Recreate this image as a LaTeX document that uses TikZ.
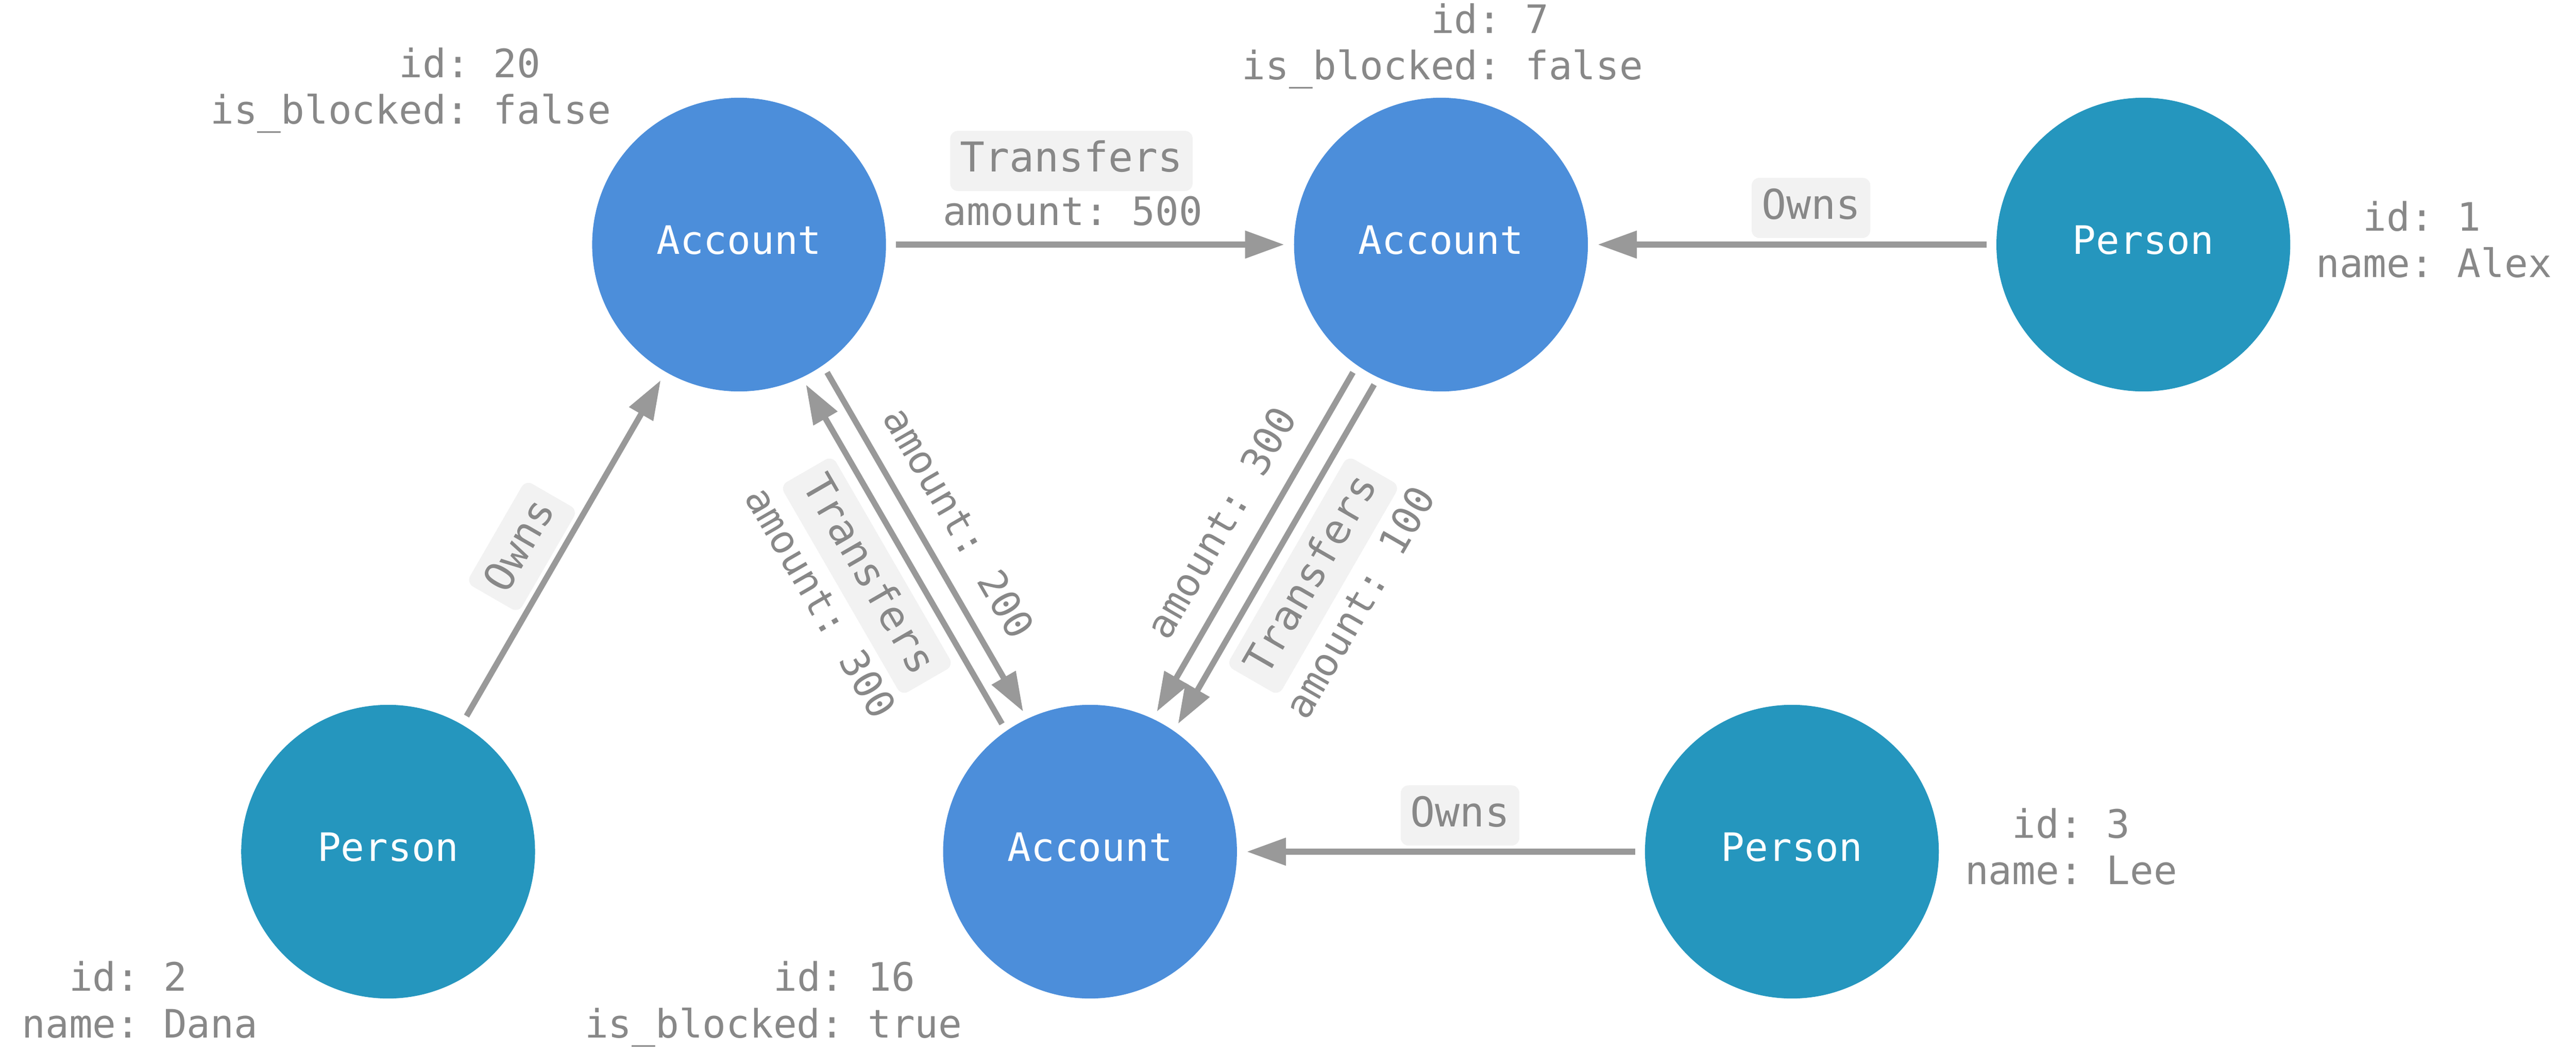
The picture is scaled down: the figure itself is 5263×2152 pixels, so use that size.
\documentclass[tikz,border=0pt]{standalone}
\usepackage{fontspec}
\setmonofont{DejaVu Sans Mono}
\usetikzlibrary{arrows.meta}
\definecolor{acc}{HTML}{4C8EDA}
\definecolor{per}{HTML}{2596BE}
\definecolor{edgec}{HTML}{999999}
\definecolor{txt}{HTML}{888888}
\definecolor{capbg}{HTML}{F2F2F2}
\newcommand\propfont{\fontsize{22.76pt}{27.03pt}\selectfont\ttfamily}
\newcommand\capfont{\fontsize{23.9pt}{27pt}\selectfont\ttfamily}
\begin{document}
\begin{tikzpicture}[x=0.01cm,y=-0.01cm,
  ent/.style={circle, minimum size=6cm, inner sep=0pt, outer sep=0pt, text=white, font=\propfont, text height=0.58cm, text depth=0.20cm},
  account/.style={ent, fill=acc},
  person/.style={ent, fill=per},
  rel/.style={draw=edgec, line width=0.12cm, -{Triangle[length=0.8cm,width=0.54cm]}, shorten <=0.2cm, shorten >=0.2cm},
  par/.style={rel, shorten <=3.16cm, shorten >=3.16cm},
  props/.style={text=txt, font=\propfont, inner sep=0pt, anchor=base west},
  caption/.style={fill=capbg, rounded corners=0.16cm, text=txt, font=\capfont, text height=0.6cm, text depth=0.15cm, inner xsep=0.2cm, inner ysep=0.24cm},
  amt/.style={text=txt, font=\propfont, inner sep=0pt, text height=0.58cm, text depth=0pt}
]
\useasboundingbox (0,0) rectangle (5263,2152);

% entities
\node[account] (A) at (1510,500) {Account};
\node[account] (B) at (2944,500) {Account};
\node[account] (C) at (2227,1741) {Account};
\node[person] (Alex) at (4379,500) {Person};
\node[person] (Dana) at (793,1741) {Person};
\node[person] (Lee) at (3661,1741) {Person};

% properties
\node[props] (pA) at (429,253) {\begin{tabular}[b]{@{}r@{:\ }l@{}}id&20\\is\_blocked&false\end{tabular}};
\node[props] (pB) at (2537,163) {\begin{tabular}[b]{@{}r@{:\ }l@{}}id&7\\is\_blocked&false\end{tabular}};
\node[props] (pC) at (1194,2121) {\begin{tabular}[b]{@{}r@{:\ }l@{}}id&16\\is\_blocked&true\end{tabular}};
\node[props] (pAlex) at (4731,567) {\begin{tabular}[b]{@{}r@{:\ }l@{}}id&1\\name&Alex\end{tabular}};
\node[props] (pDana) at (44,2121) {\begin{tabular}[b]{@{}r@{:\ }l@{}}id&2\\name&Dana\end{tabular}};
\node[props] (pLee) at (4014,1808) {\begin{tabular}[b]{@{}r@{:\ }l@{}}id&3\\name&Lee\end{tabular}};

% relationships
\draw[rel] (A) -- (B);
\draw[rel] (Alex) -- (B);
\draw[rel] (Lee) -- (C);
\draw[rel] (Dana) -- (A);
\draw[par] ([shift={(21.65,-12.5)}]A.center) -- ([shift={(21.65,-12.5)}]C.center);
\draw[par] ([shift={(-21.65,12.5)}]C.center) -- ([shift={(-21.65,12.5)}]A.center);
\draw[par] ([shift={(-21.65,-12.5)}]B.center) -- ([shift={(-21.65,-12.5)}]C.center);
\draw[par] ([shift={(21.65,12.5)}]B.center) -- ([shift={(21.65,12.5)}]C.center);

% relationship labels
\node[caption] (tAB) at (2189,329) {Transfers};
\node[amt] (aAB) at (2192,431) {amount: 500};
\node[caption] (oAlex) at (3700,425) {Owns};
\node[caption] (oLee) at (2983,1667) {Owns};
\node[caption, rotate=60] (oDana) at (1066.5,1117) {Owns};
\node[amt, rotate=-60] (a200) at (1959.4,1068) {amount: 200};
\node[caption, rotate=-60] (tCA) at (1771.1,1176.75) {Transfers};
\node[amt, rotate=-60] (a300a) at (1677.1,1231) {amount: 300};
\node[amt, rotate=60] (a300b) at (2494.6,1068) {amount: 300};
\node[caption, rotate=60] (tBC) at (2682.9,1176.75) {Transfers};
\node[amt, rotate=60] (a100) at (2776.9,1231) {amount: 100};
\end{tikzpicture}
\end{document}
